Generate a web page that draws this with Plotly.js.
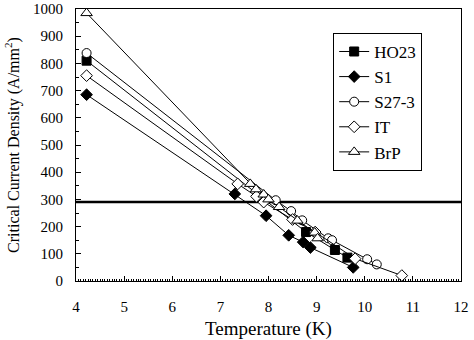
<!DOCTYPE html>
<html><head><meta charset="utf-8">
<script src="https://cdn.plot.ly/plotly-3.0.1.min.js"></script>
<style>html,body{margin:0;padding:0;background:#fff}#c{width:474px;height:340px}</style>
</head><body><div id="c"></div>
<script>
const seriesNames = ["HO23","S1","S27-3","IT","BrP"];
const ho23T = [4.22, 8.78, 9.38, 9.64];
const ho23J = [810, 180, 114, 86];
const s1T = [4.22, 7.30, 7.95, 8.42, 8.72, 8.87, 9.76];
const s1J = [685, 320, 240, 168, 143, 123, 50];
const s27T = [4.22, 8.15, 8.47, 8.70, 9.24, 9.32, 10.05, 10.25];
const s27J = [838, 297, 257, 223, 157, 150, 80, 61];
const itT = [4.22, 7.36, 7.75, 7.90, 8.50, 8.97, 9.80, 10.77];
const itJ = [755, 357, 311, 290, 226, 180, 82, 20];
const brpT = [4.22, 7.62, 7.74, 7.90, 8.00, 8.22, 8.60, 8.96, 9.02];
const brpJ = [985, 357, 337, 318, 300, 272, 222, 178, 157];
const limitJ = 290;
const xTicks = [4,5,6,7,8,9,10,11,12];

const font = "Liberation Serif";
function tr(name, x, y, symbol, size, fill){
  return {x:x, y:y, name:name, type:'scatter', mode:'lines+markers',
    line:{color:'#000', width:1},
    marker:{symbol:symbol, size:size, color: fill, line:{color:'#000', width:1}}};
}
const data = [
  tr(seriesNames[0], ho23T, ho23J, 'square', 9, '#000'),
  tr(seriesNames[1], s1T, s1J, 'diamond', 9, '#000'),
  tr(seriesNames[2], s27T, s27J, 'circle', 9, '#fff'),
  tr(seriesNames[3], itT, itJ, 'diamond', 9, '#fff'),
  tr(seriesNames[4], brpT, brpJ, 'triangle-up', 10, '#fff')
];
const layout = {
  width:474, height:340,
  margin:{l:76, r:13, t:9, b:59, autoexpand:false},
  paper_bgcolor:'#fff', plot_bgcolor:'#fff',
  font:{family:font, size:15, color:'#000'},
  showlegend:true,
  legend:{x:0.668, y:0.912, xanchor:'left', yanchor:'top',
    bordercolor:'#000', borderwidth:1, bgcolor:'#fff',
    font:{family:font, size:17, color:'#000'}, tracegroupgap:0, itemwidth:30},
  xaxis:{range:[4,12], tickvals:xTicks, ticktext:xTicks.map(String),
    ticks:'inside', ticklen:5, tickcolor:'#000', showline:true, linecolor:'#000', linewidth:1,
    mirror:true, showgrid:false, zeroline:false,
    minor:{dtick:0.05, ticks:'inside', ticklen:2.5, tickcolor:'#000', showgrid:false},
    tickfont:{family:font, size:15, color:'#000'}, ticklabelstandoff:12,
    title:{text:'Temperature (K)', font:{family:font, size:19}, standoff:8}},
  yaxis:{range:[0,1000], dtick:100, ticks:'inside', ticklen:5, tickcolor:'#000',
    showline:true, linecolor:'#000', linewidth:1, mirror:true, showgrid:false, zeroline:false,
    minor:{dtick:50, ticks:'inside', ticklen:3, tickcolor:'#000', showgrid:false},
    tickfont:{family:font, size:15, color:'#000'}, ticklabelstandoff:9,
    title:{text:'Critical Current Density (A/mm<sup>2</sup>)', font:{family:font, size:16}, standoff:9}},
  shapes:[{type:'line', xref:'paper', x0:0, x1:1, yref:'y', y0:limitJ, y1:limitJ,
    line:{color:'#000', width:2.5}, layer:'below'}]
};
Plotly.newPlot('c', data, layout, {displayModeBar:false, staticPlot:true});
</script></body></html>
